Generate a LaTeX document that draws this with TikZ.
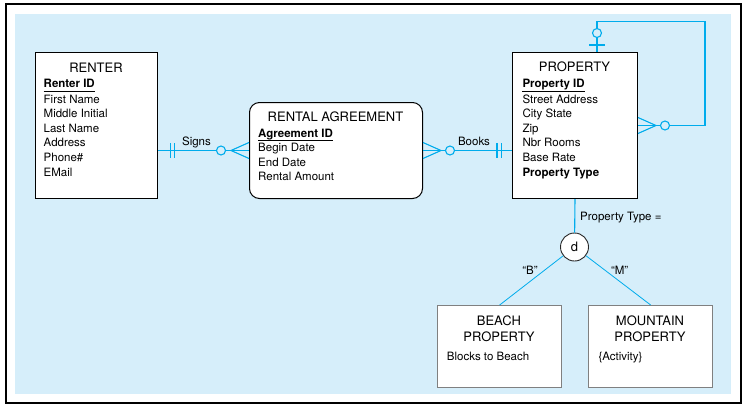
\documentclass[tikz,border=0pt]{standalone}
\usepackage{fontspec}
\setmainfont{TeX Gyre Heros}
\definecolor{skyfill}{RGB}{214,238,250}
\definecolor{relline}{RGB}{0,172,236}
\tikzset{
	ent/.style={draw=black, line width=1pt, fill=white, inner sep=0pt, anchor=north west},
	subent/.style={draw=black!50, line width=1.3pt, fill=white, inner sep=0pt, anchor=north west},
	ttl/.style={anchor=base, inner sep=0pt, font=\fontsize{13}{15}\selectfont},
	attr/.style={anchor=base west, inner sep=0pt, font=\fontsize{11.5}{14}\selectfont},
	keyattr/.style={attr, font=\fontsize{11.5}{14}\selectfont\bfseries},
	lbl/.style={anchor=base, inner sep=0pt, font=\fontsize{11.5}{14}\selectfont},
	rel/.style={draw=relline, line width=1.1pt},
	ring/.style={rel, fill=skyfill},
}
\begin{document}
\begin{tikzpicture}[x=1pt, y=-1pt]
	\useasboundingbox (0,0) rectangle (748,408) ;
	\fill[white] (0,0) rectangle (748,408) ;
	\draw[line width=1.2pt] (6,4) rectangle (741,403) ;
	\fill[skyfill] (15,14) rectangle (731,394) ;

	% entities
	\node[ent, minimum width=122, minimum height=146] (renter) at (35,52) {} ;
	\node[ent, rounded corners=10pt, minimum width=173, minimum height=96] (agree) at (249,102) {} ;
	\node[ent, minimum width=125, minimum height=146] (prop) at (512,52) {} ;
	\node[subent, minimum width=124, minimum height=82] (beach) at (437,305) {} ;
	\node[subent, minimum width=124, minimum height=82] (mount) at (588,305) {} ;

	% RENTER
	\node[ttl] (rt) at (96,72) {RENTER} ;
	\node[keyattr] (rid) at (43.5,87.5) {Renter ID} ;
	\node[attr] (r1) at (43.5,103) {First Name} ;
	\node[attr] (r2) at (43.5,117.6) {Middle Initial} ;
	\node[attr] (r3) at (43.5,132.2) {Last Name} ;
	\node[attr] (r4) at (43.5,146.8) {Address} ;
	\node[attr] (r5) at (43.5,161.4) {Phone\#} ;
	\node[attr] (r6) at (43.5,176) {EMail} ;
	\draw ([yshift=-3.3pt]rid.base west) -- ([yshift=-3.3pt]rid.base east) ;

	% RENTAL AGREEMENT
	\node[ttl] (at) at (335.5,121.8) {RENTAL AGREEMENT} ;
	\node[keyattr] (aid) at (258,137) {Agreement ID} ;
	\node[attr] (a1) at (258,151.6) {Begin Date} ;
	\node[attr] (a2) at (258,166.2) {End Date} ;
	\node[attr] (a3) at (258,180.8) {Rental Amount} ;
	\draw ([yshift=-3.3pt]aid.base west) -- ([yshift=-3.3pt]aid.base east) ;

	% PROPERTY
	\node[ttl] (pt) at (574.5,71) {PROPERTY} ;
	\node[keyattr] (pid) at (522.3,87.5) {Property ID} ;
	\node[attr] (p1) at (522.3,103) {Street Address} ;
	\node[attr] (p2) at (522.3,117.6) {City State} ;
	\node[attr] (p3) at (522.3,132.2) {Zip} ;
	\node[attr] (p4) at (522.3,146.8) {Nbr Rooms} ;
	\node[attr] (p5) at (522.3,161.4) {Base Rate} ;
	\node[keyattr] (p6) at (522.3,176) {Property Type} ;
	\draw ([yshift=-3.3pt]pid.base west) -- ([yshift=-3.3pt]pid.base east) ;

	% subtypes
	\node[ttl] (bt1) at (499,325.5) {BEACH} ;
	\node[ttl] (bt2) at (499,341) {PROPERTY} ;
	\node[attr] (b1) at (446.7,360.7) {Blocks to Beach} ;
	\node[ttl] (mt1) at (650,325.5) {MOUNTAIN} ;
	\node[ttl] (mt2) at (650,341) {PROPERTY} ;
	\node[attr] (m1) at (598.3,360.7) {\{Activity\}} ;

	% Signs
	\coordinate (sg) at (agree.west -| renter.east) ;
	\draw[rel] (sg) -- (agree.west) ;
	\draw[rel] ([xshift=12.5,yshift=7.5]sg) -- ([xshift=12.5,yshift=-7.5]sg) ;
	\draw[rel] ([xshift=16.7,yshift=7.5]sg) -- ([xshift=16.7,yshift=-7.5]sg) ;
	\draw[rel] ([yshift=8]agree.west) -- ([xshift=-18]agree.west) -- ([yshift=-8]agree.west) ;
	\draw[ring] ([xshift=-28]agree.west) circle (4.5) ;
	\node[lbl] (signs) at (196.5,145.5) {Signs} ;

	% Books
	\coordinate (bk) at (agree.east -| prop.west) ;
	\draw[rel] (agree.east) -- (bk) ;
	\draw[rel] ([xshift=-15,yshift=7.5]bk) -- ([xshift=-15,yshift=-7.5]bk) ;
	\draw[rel] ([xshift=-10.7,yshift=7.5]bk) -- ([xshift=-10.7,yshift=-7.5]bk) ;
	\draw[rel] ([yshift=8]agree.east) -- ([xshift=18]agree.east) -- ([yshift=-8]agree.east) ;
	\draw[ring] ([xshift=27]agree.east) circle (4.5) ;
	\node[lbl] (books) at (474,145.5) {Books} ;

	% recursive
	\coordinate (loop) at (705,21.7) ;
	\draw[rel] ([xshift=22]prop.north) |- (loop) |- (prop.east) ;
	\draw[rel] ([xshift=14]prop.north) ++(0,-7) -- ++(16,0) ;
	\draw[ring] ([xshift=22,yshift=19]prop.north) circle (4.5) ;
	\draw[rel] ([yshift=8]prop.east) -- ([xshift=18]prop.east) -- ([yshift=-8]prop.east) ;
	\draw[ring] ([xshift=27]prop.east) circle (4.5) ;

	% subtype circle
	\node[circle, draw=black!85, line width=0.9pt, fill=white, minimum size=28, inner sep=0pt, font=\fontsize{13}{15}\selectfont] (d) at (574.5,247) {d} ;
	\draw[rel] (prop.south) -- (d) ;
	\draw[rel, line width=0.8pt] (d) -- (beach.north) ;
	\draw[rel, line width=0.8pt] (d) -- (mount.north) ;
	\node[attr] (ptype) at (580,220) {Property Type =} ;
	\node[lbl] (qb) at (530,274) {“B”} ;
	\node[lbl] (qm) at (619.7,274) {“M”} ;
\end{tikzpicture}
\end{document}
